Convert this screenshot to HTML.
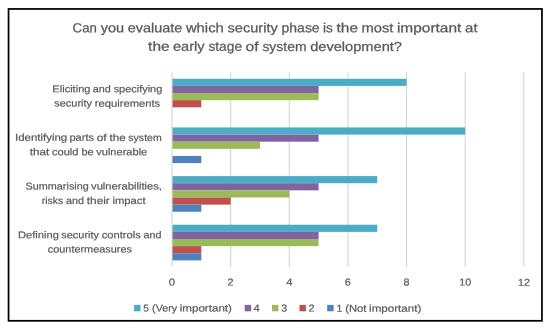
<!DOCTYPE html>
<html lang="en"><head><meta charset="utf-8"><title>Security phase evaluation chart</title>
<style>html,body{margin:0;padding:0;background:#fff}svg{display:block}text{font-family:"Liberation Sans",sans-serif;fill:#595959;stroke:#595959;stroke-width:0.2}</style></head><body>
<svg width="550" height="329" viewBox="0 0 550 329">
<rect x="0" y="0" width="550" height="329" fill="#fff"/>
<rect x="8.55" y="8.95" width="533.4" height="311.85" fill="#fff" stroke="#000" stroke-width="1.75"/>
<rect x="230.09" y="72.30" width="1.1" height="194.60" fill="#d6d6d6"/>
<rect x="288.73" y="72.30" width="1.1" height="194.60" fill="#d6d6d6"/>
<rect x="347.37" y="72.30" width="1.1" height="194.60" fill="#d6d6d6"/>
<rect x="406.01" y="72.30" width="1.1" height="194.60" fill="#d6d6d6"/>
<rect x="464.65" y="72.30" width="1.1" height="194.60" fill="#d6d6d6"/>
<rect x="523.29" y="72.30" width="1.1" height="194.60" fill="#d6d6d6"/>
<rect x="172.00" y="78.79" width="234.56" height="7.13" fill="#4BACC6"/>
<rect x="172.00" y="85.92" width="146.60" height="7.13" fill="#8064A2"/>
<rect x="172.00" y="93.05" width="146.60" height="7.13" fill="#9BBB59"/>
<rect x="172.00" y="100.18" width="29.32" height="7.13" fill="#C0504D"/>
<rect x="172.00" y="127.44" width="293.20" height="7.13" fill="#4BACC6"/>
<rect x="172.00" y="134.57" width="146.60" height="7.13" fill="#8064A2"/>
<rect x="172.00" y="141.70" width="87.96" height="7.13" fill="#9BBB59"/>
<rect x="172.00" y="155.96" width="29.32" height="7.13" fill="#4F81BD"/>
<rect x="172.00" y="176.09" width="205.24" height="7.13" fill="#4BACC6"/>
<rect x="172.00" y="183.22" width="146.60" height="7.13" fill="#8064A2"/>
<rect x="172.00" y="190.35" width="117.28" height="7.13" fill="#9BBB59"/>
<rect x="172.00" y="197.48" width="58.64" height="7.13" fill="#C0504D"/>
<rect x="172.00" y="204.61" width="29.32" height="7.13" fill="#4F81BD"/>
<rect x="172.00" y="224.74" width="205.24" height="7.13" fill="#4BACC6"/>
<rect x="172.00" y="231.87" width="146.60" height="7.13" fill="#8064A2"/>
<rect x="172.00" y="239.00" width="146.60" height="7.13" fill="#9BBB59"/>
<rect x="172.00" y="246.13" width="29.32" height="7.13" fill="#C0504D"/>
<rect x="172.00" y="253.26" width="29.32" height="7.13" fill="#4F81BD"/>
<rect x="171.40" y="72.30" width="1.2" height="194.60" fill="#d9d9d9"/>
<rect x="134.1" y="304.9" width="6.4" height="6.4" fill="#4BACC6"/>
<rect x="244.7" y="304.9" width="6.4" height="6.4" fill="#8064A2"/>
<rect x="272.0" y="304.9" width="6.4" height="6.4" fill="#9BBB59"/>
<rect x="299.5" y="304.9" width="6.4" height="6.4" fill="#C0504D"/>
<rect x="327.2" y="304.9" width="6.4" height="6.4" fill="#4F81BD"/>
<g transform="rotate(0.03 275 165)">
<text y="32.25" font-size="13.08" style="stroke-width:0.26"><tspan x="72.56" textLength="24.28" lengthAdjust="spacingAndGlyphs">Can</tspan> <tspan x="100.57" textLength="23.39" lengthAdjust="spacingAndGlyphs">you</tspan> <tspan x="127.60" textLength="54.58" lengthAdjust="spacingAndGlyphs">evaluate</tspan> <tspan x="185.84" textLength="37.93" lengthAdjust="spacingAndGlyphs">which</tspan> <tspan x="227.45" textLength="50.29" lengthAdjust="spacingAndGlyphs">security</tspan> <tspan x="281.54" textLength="38.03" lengthAdjust="spacingAndGlyphs">phase</tspan> <tspan x="322.97" textLength="9.81" lengthAdjust="spacingAndGlyphs">is</tspan> <tspan x="336.42" textLength="21.52" lengthAdjust="spacingAndGlyphs">the</tspan> <tspan x="361.48" textLength="31.89" lengthAdjust="spacingAndGlyphs">most</tspan> <tspan x="396.88" textLength="64.38" lengthAdjust="spacingAndGlyphs">important</tspan> <tspan x="465.01" textLength="12.49" lengthAdjust="spacingAndGlyphs">at</tspan></text>
<text y="50.90" font-size="13.08" style="stroke-width:0.26"><tspan x="148.07" textLength="21.52" lengthAdjust="spacingAndGlyphs">the</tspan> <tspan x="172.96" textLength="31.62" lengthAdjust="spacingAndGlyphs">early</tspan> <tspan x="208.35" textLength="33.67" lengthAdjust="spacingAndGlyphs">stage</tspan> <tspan x="245.43" textLength="13.08" lengthAdjust="spacingAndGlyphs">of</tspan> <tspan x="262.34" textLength="44.17" lengthAdjust="spacingAndGlyphs">system</tspan> <tspan x="310.11" textLength="91.84" lengthAdjust="spacingAndGlyphs">development?</tspan></text>
<text y="92.33" font-size="9.88"><tspan x="52.33" textLength="38.07" lengthAdjust="spacingAndGlyphs">Eliciting</tspan> <tspan x="92.65" textLength="18.00" lengthAdjust="spacingAndGlyphs">and</tspan> <tspan x="113.60" textLength="48.65" lengthAdjust="spacingAndGlyphs">specifying</tspan></text>
<text y="106.72" font-size="9.88"><tspan x="54.13" textLength="37.98" lengthAdjust="spacingAndGlyphs">security</tspan> <tspan x="94.84" textLength="65.26" lengthAdjust="spacingAndGlyphs">requirements</tspan></text>
<text y="140.97" font-size="9.88"><tspan x="14.96" textLength="52.23" lengthAdjust="spacingAndGlyphs">Identifying</tspan> <tspan x="69.45" textLength="24.63" lengthAdjust="spacingAndGlyphs">parts</tspan> <tspan x="96.71" textLength="9.88" lengthAdjust="spacingAndGlyphs">of</tspan> <tspan x="109.41" textLength="16.25" lengthAdjust="spacingAndGlyphs">the</tspan> <tspan x="128.34" textLength="33.35" lengthAdjust="spacingAndGlyphs">system</tspan></text>
<text y="155.37" font-size="9.88"><tspan x="29.66" textLength="19.66" lengthAdjust="spacingAndGlyphs">that</tspan> <tspan x="52.08" textLength="26.38" lengthAdjust="spacingAndGlyphs">could</tspan> <tspan x="81.41" textLength="12.10" lengthAdjust="spacingAndGlyphs">be</tspan> <tspan x="96.21" textLength="51.04" lengthAdjust="spacingAndGlyphs">vulnerable</tspan></text>
<text y="189.62" font-size="9.88"><tspan x="25.57" textLength="63.21" lengthAdjust="spacingAndGlyphs">Summarising</tspan> <tspan x="91.07" textLength="70.90" lengthAdjust="spacingAndGlyphs">vulnerabilities,</tspan></text>
<text y="204.03" font-size="9.88"><tspan x="41.80" textLength="21.40" lengthAdjust="spacingAndGlyphs">risks</tspan> <tspan x="65.97" textLength="18.00" lengthAdjust="spacingAndGlyphs">and</tspan> <tspan x="86.84" textLength="22.98" lengthAdjust="spacingAndGlyphs">their</tspan> <tspan x="112.43" textLength="33.19" lengthAdjust="spacingAndGlyphs">impact</tspan></text>
<text y="238.27" font-size="9.88"><tspan x="18.01" textLength="40.90" lengthAdjust="spacingAndGlyphs">Defining</tspan> <tspan x="61.19" textLength="37.98" lengthAdjust="spacingAndGlyphs">security</tspan> <tspan x="101.84" textLength="39.01" lengthAdjust="spacingAndGlyphs">controls</tspan> <tspan x="143.59" textLength="18.00" lengthAdjust="spacingAndGlyphs">and</tspan></text>
<text y="252.67" font-size="9.88"><tspan x="47.83" textLength="84.17" lengthAdjust="spacingAndGlyphs">countermeasures</tspan></text>
<text y="285.50" font-size="9.88"><tspan x="168.84" textLength="6.32" lengthAdjust="spacingAndGlyphs">0</tspan></text>
<text y="285.50" font-size="9.88"><tspan x="227.63" textLength="6.08" lengthAdjust="spacingAndGlyphs">2</tspan></text>
<text y="285.50" font-size="9.88"><tspan x="286.21" textLength="6.21" lengthAdjust="spacingAndGlyphs">4</tspan></text>
<text y="285.50" font-size="9.88"><tspan x="344.88" textLength="6.12" lengthAdjust="spacingAndGlyphs">6</tspan></text>
<text y="285.50" font-size="9.88"><tspan x="403.54" textLength="6.01" lengthAdjust="spacingAndGlyphs">8</tspan></text>
<text y="285.50" font-size="9.88"><tspan x="459.37" textLength="11.99" lengthAdjust="spacingAndGlyphs">10</tspan></text>
<text y="285.50" font-size="9.88"><tspan x="518.02" textLength="11.90" lengthAdjust="spacingAndGlyphs">12</tspan></text>
<text y="311.60" font-size="9.88"><tspan x="143.41" textLength="5.61" lengthAdjust="spacingAndGlyphs">5</tspan> <tspan x="152.20" textLength="25.03" lengthAdjust="spacingAndGlyphs">(Very</tspan> <tspan x="179.82" textLength="52.18" lengthAdjust="spacingAndGlyphs">important)</tspan></text>
<text y="311.60" font-size="9.88"><tspan x="253.66" textLength="6.21" lengthAdjust="spacingAndGlyphs">4</tspan></text>
<text y="311.60" font-size="9.88"><tspan x="281.41" textLength="5.89" lengthAdjust="spacingAndGlyphs">3</tspan></text>
<text y="311.60" font-size="9.88"><tspan x="308.57" textLength="6.08" lengthAdjust="spacingAndGlyphs">2</tspan></text>
<text y="311.60" font-size="9.88"><tspan x="336.61" textLength="5.78" lengthAdjust="spacingAndGlyphs">1</tspan> <tspan x="345.28" textLength="21.25" lengthAdjust="spacingAndGlyphs">(Not</tspan> <tspan x="369.20" textLength="52.18" lengthAdjust="spacingAndGlyphs">important)</tspan></text>
</g>
</svg></body></html>
